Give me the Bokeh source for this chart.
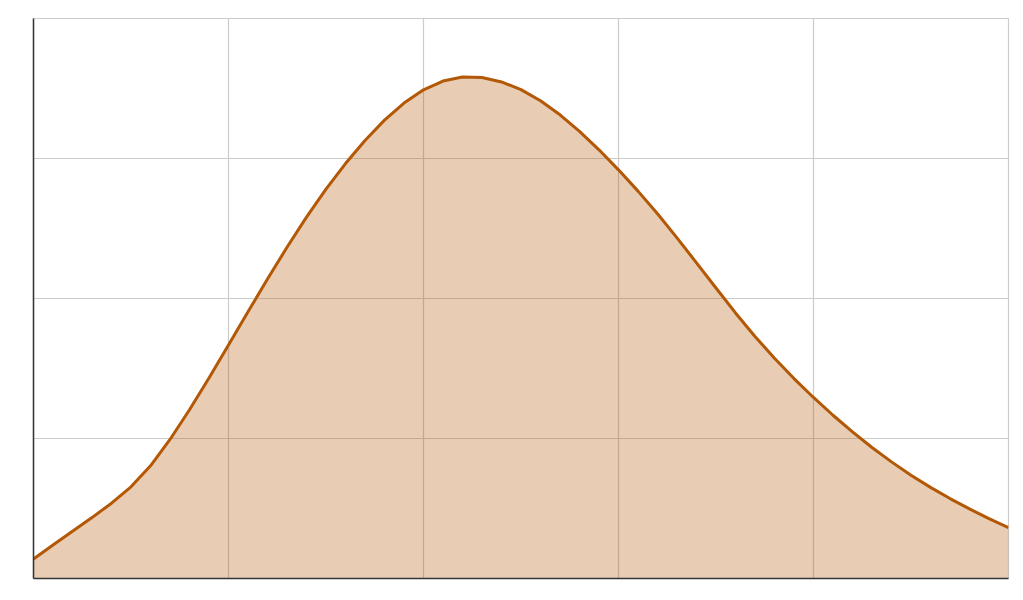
from bokeh.plotting import figure
from bokeh.models import Range1d, FixedTicker
from bokeh.embed import file_html
from bokeh.resources import INLINE

# Data (x in grid units, y in grid units)
x_vals = [0.0, 0.1, 0.2, 0.3, 0.4, 0.5, 0.6, 0.7, 0.8, 0.9,
          1.0, 1.1, 1.2, 1.3, 1.4, 1.5, 1.6, 1.7, 1.8, 1.9,
          2.0, 2.1, 2.2, 2.3, 2.4, 2.5, 2.6, 2.7, 2.8, 2.9,
          3.0, 3.1, 3.2, 3.3, 3.4, 3.5, 3.6, 3.7, 3.8, 3.9,
          4.0, 4.1, 4.2, 4.3, 4.4, 4.5, 4.6, 4.7, 4.8, 4.9, 5.0]
y_vals = [0.139, 0.239, 0.337, 0.435, 0.538, 0.655, 0.805, 0.993, 1.205, 1.432,
          1.668, 1.905, 2.139, 2.366, 2.581, 2.781, 2.964, 3.129, 3.274, 3.396,
          3.491, 3.553, 3.582, 3.578, 3.547, 3.492, 3.412, 3.312, 3.194, 3.062,
          2.919, 2.767, 2.605, 2.433, 2.255, 2.075, 1.897, 1.729, 1.573, 1.428,
          1.293, 1.166, 1.047, 0.936, 0.833, 0.738, 0.651, 0.571, 0.497, 0.428, 0.363]
x_ticks = [0, 1, 2, 3, 4, 5]
y_ticks = [0, 1, 2, 3, 4]

line_color = "#b35806"

p = figure(width=1015, height=592, output_backend="svg", toolbar_location=None,
           x_range=Range1d(0, 5), y_range=Range1d(0, 4),
           min_border_left=33, min_border_right=7, min_border_top=18, min_border_bottom=14)
p.outline_line_color = "#cccccc"
p.outline_line_width = 1.2
p.background_fill_color = "white"

for ax in (p.xaxis, p.yaxis):
    ax.ticker = FixedTicker(ticks=[])
    ax.major_label_text_font_size = "0px"
    ax.major_tick_in = 0
    ax.major_tick_out = 0
    ax.minor_tick_in = 0
    ax.minor_tick_out = 0
    ax.axis_line_color = "#333333"
    ax.axis_line_width = 1.5

p.xgrid.ticker = FixedTicker(ticks=x_ticks)
p.ygrid.ticker = FixedTicker(ticks=y_ticks)
p.grid.grid_line_color = "#cccccc"
p.grid.grid_line_width = 1.2

p.varea(x=x_vals, y1=[0] * len(x_vals), y2=y_vals, fill_color=line_color, fill_alpha=0.3)
p.line(x=x_vals, y=y_vals, line_color=line_color, line_width=3, line_join="round")

open("out.html", "w").write(file_html(p, INLINE))
